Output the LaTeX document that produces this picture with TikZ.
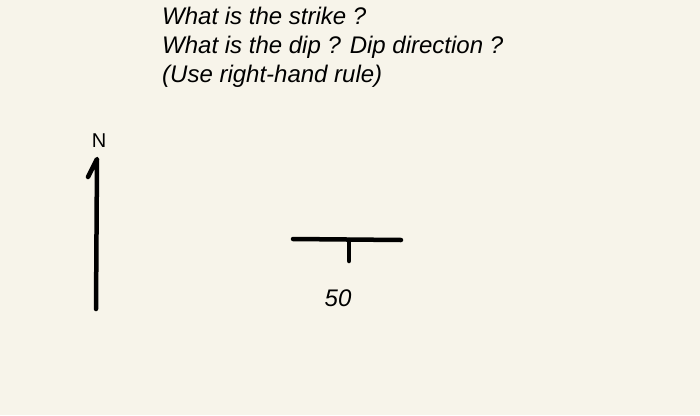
\documentclass[tikz,border=0pt]{standalone}
\usepackage{fontspec}
\setmainfont{Liberation Sans}
\definecolor{bg}{RGB}{247,244,234}
\begin{document}
\begin{tikzpicture}[x=1pt,y=-1pt,
  txt/.style={font=\fontsize{24}{28}\selectfont\itshape, anchor=base west, inner sep=0pt},
  stroke/.style={line width=4.5pt, line cap=round, line join=round}]
\fill[bg] (0,0) rectangle (700,415);
\useasboundingbox (0,0) rectangle (700,415);
\node[txt] (t1) at (162,24) {What is the strike ?};
\node[txt] (t2) at (162,53) {What is the dip ? Dip direction ?};
\node[txt] (t3) at (162,82) {(Use right-hand rule)};
\node[font=\fontsize{20}{22}\selectfont, anchor=base, inner sep=0pt] (n) at (99,147) {N};
\coordinate (ntop) at (97,159);
\coordinate (nbot) at (96,309);
\coordinate (nhook) at (88,177);
\draw[stroke] (nhook) -- (ntop) -- (nbot);
\coordinate (sl) at (293,239);
\coordinate (sr) at (401,240);
\coordinate (dt) at (349,240);
\coordinate (db) at (349,261);
\draw[stroke] (sl) -- (sr);
\draw[stroke] (dt) -- (db);
\node[font=\fontsize{24}{28}\selectfont\itshape, anchor=base, inner sep=0pt] (dip) at (338,306) {50};
\end{tikzpicture}
\end{document}
